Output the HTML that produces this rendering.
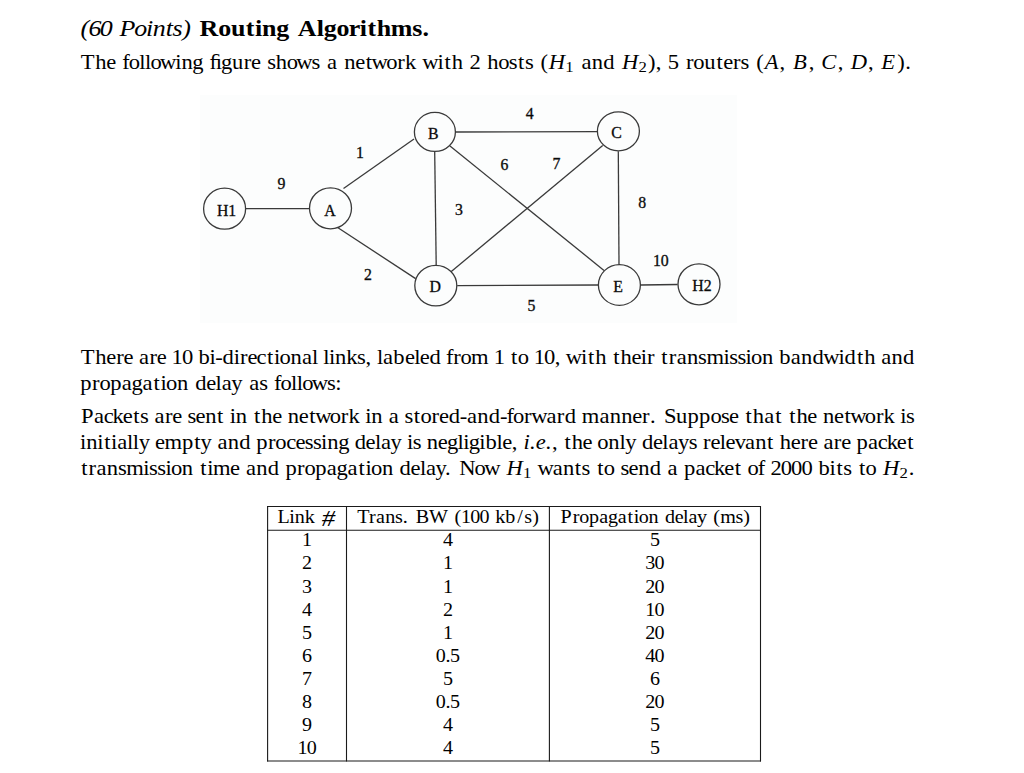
<!DOCTYPE html>
<html><head><meta charset="utf-8">
<style>
html,body{margin:0;padding:0;background:#fff;}
body{width:1024px;height:773px;overflow:hidden;}
svg{display:block;}
text{font-family:"Liberation Serif",serif;fill:#000;}
</style></head><body>
<svg width="1024" height="773" viewBox="0 0 1024 773">
<rect x="0" y="0" width="1024" height="773" fill="#fff"/>
<text transform="scale(1.13,1)" font-size="23.0"><tspan x="71.24 78.34 88.37 99.13 105.77 118.71 129.28 135.25 146.58 152.56 161.23 169.07" y="35.61" font-style="italic">(60 Points) </tspan><tspan x="176.47 193.08 204.34 217.55 225.70 231.90 244.45 255.84 263.57 280.33 286.54 297.82 308.71 318.36 325.24 333.33 345.81 364.76 373.94" y="35.61" font-weight="bold">Routing Algorithms.</tspan></text>
<text transform="scale(1.13,1)" font-size="20.0"><tspan x="71.56 84.36 94.07 102.57 108.13 113.83 123.16 128.24 133.14 141.60 155.19 160.59 170.23 179.80 185.44 195.65 205.31 215.64 222.18 230.69 236.49 244.08 253.73 262.18 275.72 283.22 289.47 298.48 304.65 314.36 323.64 328.85 341.74 351.57 358.31 368.14 373.63 387.22 393.32 399.74 409.82 415.49 425.06 431.23 440.89 450.18 458.46 464.51 472.01 478.35" y="68.70" >The following ﬁgure shows a network with 2 hosts (</tspan><tspan x="485.61" y="68.70" font-style="italic">H</tspan><tspan x="500.29 507.54" y="71.80" font-size="14.8">1 </tspan><tspan x="514.61 523.70 533.86 543.95" y="68.70" >and </tspan><tspan x="550.42" y="68.70" font-style="italic">H</tspan><tspan x="565.10" y="71.80" font-size="14.8">2</tspan><tspan x="573.41 580.34 585.38 591.05 600.62 606.99 613.47 623.13 633.99 639.95 648.71 655.34 662.84 669.16" y="68.70" >), 5 routers (</tspan><tspan x="676.79" y="68.70" font-style="italic">A</tspan><tspan x="689.80 694.84" y="68.70" >, </tspan><tspan x="701.77" y="68.70" font-style="italic">B</tspan><tspan x="715.78 720.82" y="68.70" >, </tspan><tspan x="726.78" y="68.70" font-style="italic">C</tspan><tspan x="741.34 746.38" y="68.70" >, </tspan><tspan x="752.83" y="68.70" font-style="italic">D</tspan><tspan x="768.18 773.22" y="68.70" >, </tspan><tspan x="779.96" y="68.70" font-style="italic">E</tspan><tspan x="794.10 801.03" y="68.70" >).</tspan></text>
<text transform="scale(1.13,1)" font-size="20.0"><tspan x="71.56 84.36 94.07 102.82 109.36 117.86 122.99 132.26 138.80 147.30 151.85 161.00 170.57 175.65 185.49 190.53 196.99 206.84 212.41 218.95 227.08 236.36 242.46 247.35 257.01 267.23 276.00 281.32 286.06 291.14 296.54 306.45 316.00 323.54 328.58 333.56 339.01 348.11 358.33 366.59 371.54 380.12 390.21 394.65 401.03 407.51 416.93 432.33 436.90 446.47 452.23 458.14 467.71 472.28 481.43 491.04 496.08 500.68 514.27 520.37 526.79 536.87 542.63 549.04 558.75 567.02 572.59 579.50 585.28 591.87 598.91 608.01 617.81 625.15 640.31 645.35 652.56 659.83 664.72 674.37 684.46 689.52 699.73 708.83 718.99 728.46 742.05 747.45 758.31 764.73 774.81 779.94 789.04 799.20" y="363.81" >There are 10 bi-directional links, labeled from 1 to 10, with their transmission bandwidth and</tspan></text>
<text transform="scale(1.13,1)" font-size="20.0"><tspan x="71.14 81.48 87.97 97.62 107.84 116.42 126.13 135.92 142.02 146.92 156.57 166.65 172.83 182.54 190.80 196.26 204.59 214.41 220.66 229.39 236.89 242.44 248.14 257.48 262.56 267.45 275.90 289.44 296.71" y="390.30" >propagation delay as follows:</tspan></text>
<text transform="scale(1.13,1)" font-size="20.0"><tspan x="71.73 83.14 91.77 99.59 108.55 117.84 123.89 131.39 136.72 145.98 152.52 161.03 165.94 173.06 181.65 192.02 198.35 203.31 208.71 218.80 224.77 231.19 240.90 249.40 254.68 264.39 273.67 278.90 291.78 301.61 308.35 318.18 323.14 328.54 338.62 343.95 352.97 357.89 366.17 372.08 381.91 388.45 397.03 406.84 413.35 422.44 432.61 442.41 448.25 453.93 463.76 470.06 483.53 492.79 499.79 509.87 514.91 530.44 539.54 549.70 559.41 568.17 575.12 580.16 587.51 598.24 608.40 618.57 628.74 638.03 645.15 653.66 659.63 666.05 676.27 686.06 692.39 698.37 704.79 714.49 723.00 728.28 737.98 747.27 752.49 765.38 775.21 781.95 791.78 796.74 801.77" y="423.09" >Packets are sent in the network in a stored-and-forward manner. Suppose that the network is</tspan></text>
<text transform="scale(1.13,1)" font-size="20.0"><tspan x="70.82 76.23 86.07 92.17 98.27 103.72 112.50 117.58 122.73 132.56 137.14 145.49 160.99 171.83 177.50 187.33 192.42 201.52 211.68 221.76 226.82 237.16 243.64 253.34 261.49 269.70 276.92 284.18 289.58 299.24 308.81 313.85 323.56 331.83 337.28 345.61 355.44 360.18 365.21 372.71 377.77 387.48 395.56 404.89 409.97 414.87 424.20 429.61 439.45 444.38 452.94 457.98" y="448.90" >initially empty and processing delay is negligible, </tspan><tspan x="463.19 469.08 474.16 483.11" y="448.90" font-style="italic">i.e.</tspan><tspan x="488.46 493.50 499.47 505.89 515.60 524.10 528.63 538.29 548.13 553.28 563.11 568.17 577.88 586.14 591.60 599.92 609.47 616.97 622.20 628.74 637.00 641.95 650.28 659.22 668.31 678.66 685.00 690.06 699.76 708.52 715.06 723.56 728.68 737.94 744.48 752.98 758.02 768.24 776.88 784.72 793.66 802.94" y="448.90" >, the only delays relevant here are packet</tspan></text>
<text transform="scale(1.13,1)" font-size="20.0"><tspan x="71.84 78.43 85.48 94.57 104.37 111.71 126.88 131.91 139.13 146.39 151.28 160.94 171.02 177.27 183.37 188.53 203.56 212.06 217.69 226.78 236.93 247.01 252.58 262.91 269.40 279.06 289.27 297.86 307.57 317.36 323.46 328.35 338.01 348.09 353.64 363.35 371.62 377.07 385.40 393.75 398.79 406.35 420.01 428.45 442.28" y="475.09" >transmission time and propagation delay. Now </tspan><tspan x="448.13" y="475.09" font-style="italic">H</tspan><tspan x="462.81 470.06" y="478.18" font-size="14.8">1 </tspan><tspan x="475.75 489.20 498.30 508.65 514.70 522.20 528.47 534.38 543.95 549.13 556.26 564.85 575.01 585.09 590.70 599.71 605.26 615.48 624.12 631.96 640.90 650.18 656.52 661.56 670.60 676.72 681.77 690.92 700.06 709.21 718.78 724.34 734.18 740.28 746.33 753.83 760.10 766.01 775.58" y="475.09" >wants to send a packet of 2000 bits to </tspan><tspan x="781.43" y="475.09" font-style="italic">H</tspan><tspan x="796.11" y="478.18" font-size="14.8">2</tspan><tspan x="804.23" y="475.09" >.</tspan></text>
<!-- Figure -->
<g class="fig">
<rect x="200" y="95" width="537" height="228" fill="#fcfdfd"/>
<g stroke="#3a3a3a" stroke-width="1.3" fill="none">
<line x1="246" y1="208.6" x2="309.5" y2="208.6"/>
<line x1="343.5" y1="188.5" x2="414" y2="139"/>
<line x1="338" y1="227.8" x2="415.6" y2="278.6"/>
<line x1="456" y1="132" x2="597" y2="131.6"/>
<line x1="434.7" y1="152" x2="436.2" y2="265"/>
<line x1="450" y1="146" x2="604" y2="270.4"/>
<line x1="451" y1="271.8" x2="602.7" y2="145.4"/>
<line x1="618.3" y1="151.3" x2="619" y2="264.5"/>
<line x1="457.2" y1="285.6" x2="598.2" y2="285"/>
<line x1="640.7" y1="285" x2="677.6" y2="284.5"/>
<ellipse cx="224.6" cy="208.7" rx="21" ry="20.5"/>
<ellipse cx="330.5" cy="208.3" rx="21" ry="20.5"/>
<ellipse cx="434.9" cy="131.9" rx="20.5" ry="19.5"/>
<ellipse cx="618.4" cy="131.3" rx="21" ry="19.5"/>
<ellipse cx="435.8" cy="285.6" rx="21" ry="20.3"/>
<ellipse cx="619.4" cy="285" rx="21" ry="20.3"/>
<ellipse cx="699" cy="284.3" rx="21" ry="20.5"/>
</g>
<g font-size="15.8" fill="#262626" stroke="#262626" stroke-width="0.35">
<text x="226.6" y="215.7" text-anchor="middle">H1</text>
<text x="329.9" y="215.6" text-anchor="middle">A</text>
<text x="433.2" y="138.9" text-anchor="middle">B</text>
<text x="616.5" y="137.9" text-anchor="middle">C</text>
<text x="435.2" y="292.4" text-anchor="middle">D</text>
<text x="618" y="291.6" text-anchor="middle">E</text>
<text x="702" y="291.3" text-anchor="middle">H2</text>
<text x="281.4" y="189.2" text-anchor="middle">9</text>
<text x="359.9" y="157.6" text-anchor="middle">1</text>
<text x="367.9" y="279.9" text-anchor="middle">2</text>
<text x="458.9" y="215.2" text-anchor="middle">3</text>
<text x="529.7" y="119.3" text-anchor="middle">4</text>
<text x="531.5" y="310.7" text-anchor="middle">5</text>
<text x="504.5" y="169.7" text-anchor="middle">6</text>
<text x="556.5" y="169.1" text-anchor="middle">7</text>
<text x="642.2" y="207.5" text-anchor="middle">8</text>
<text x="660.8" y="265.5" text-anchor="middle">10</text>
</g>
</g>


<g stroke="#1a1a1a" stroke-width="1.1"><line x1="267.6" y1="506.0" x2="267.6" y2="761.5"/><line x1="346.5" y1="506.0" x2="346.5" y2="761.5"/><line x1="549.4" y1="506.0" x2="549.4" y2="761.5"/><line x1="760.5" y1="506.0" x2="760.5" y2="761.5"/><line x1="267.1" y1="506.5" x2="761.0" y2="506.5"/><line x1="267.1" y1="530.3" x2="761.0" y2="530.3"/><line x1="267.1" y1="761.0" x2="761.0" y2="761.0"/></g>
<text transform="scale(1.085,1)" font-size="18.5" x="255.81 266.58 271.63 280.85 289.97 329.37 340.02 346.59 355.06 364.17 371.18 375.86 383.29 395.51 413.00 418.90 424.93 433.44 441.96 450.84 456.40 465.63 476.67 483.26 490.45 496.84 516.57 527.77 533.82 542.81 552.32 560.31 569.35 578.45 584.13 588.70 597.69 607.05 612.83 621.86 629.55 634.64 642.39 651.51 657.43 663.73 677.78 684.97" y="523.00">Link Trans. BW (100 kb/s) Propagation delay (ms)</text><text transform="translate(328.47,526.40) scale(1.45,1.28)" font-size="18.5" x="0" y="0" text-anchor="middle" font-style="italic">#</text>
<text transform="scale(1.085,1)" font-size="18.5" x="278.37 287.25 408.23 417.11 599.01" y="546.40">1 4 5</text>
<text transform="scale(1.085,1)" font-size="18.5" x="278.37 287.25 408.23 417.11 594.76 603.27" y="569.46">2 1 30</text>
<text transform="scale(1.085,1)" font-size="18.5" x="278.37 287.25 408.23 417.11 594.76 603.27" y="592.52">3 1 20</text>
<text transform="scale(1.085,1)" font-size="18.5" x="278.37 287.25 408.23 417.11 594.76 603.27" y="615.58">4 2 10</text>
<text transform="scale(1.085,1)" font-size="18.5" x="278.37 287.25 408.23 417.11 594.76 603.27" y="638.64">5 1 20</text>
<text transform="scale(1.085,1)" font-size="18.5" x="278.37 287.25 401.61 410.54 414.86 423.74 594.76 603.27" y="661.70">6 0.5 40</text>
<text transform="scale(1.085,1)" font-size="18.5" x="278.37 287.25 408.23 417.11 599.01" y="684.76">7 5 6</text>
<text transform="scale(1.085,1)" font-size="18.5" x="278.37 287.25 401.61 410.54 414.86 423.74 594.76 603.27" y="707.82">8 0.5 20</text>
<text transform="scale(1.085,1)" font-size="18.5" x="278.37 287.25 408.23 417.11 599.01" y="730.88">9 4 5</text>
<text transform="scale(1.085,1)" font-size="18.5" x="274.11 282.63 291.51 408.23 417.11 599.01" y="753.94">10 4 5</text>
</svg>
</body></html>
